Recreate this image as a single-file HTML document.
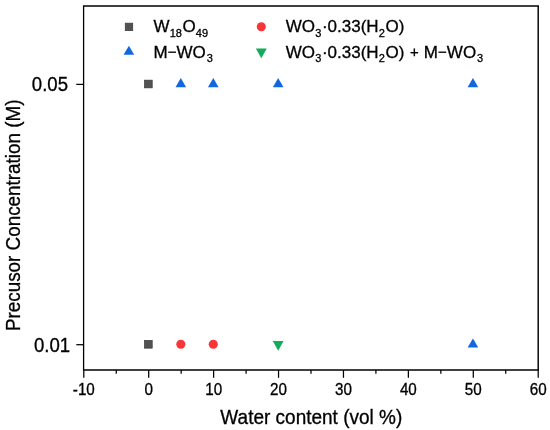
<!DOCTYPE html><html><head><meta charset="utf-8"><title>Phase diagram</title>
<style>html,body{margin:0;padding:0;background:#fff}svg{display:block}text{font-family:"Liberation Sans",Arial,sans-serif;fill:#000;stroke:#000;stroke-width:0.3px}</style></head><body>
<svg width="550" height="430" viewBox="0 0 550 430">
<rect width="550" height="430" fill="#fff"/>
<line x1="82.95" y1="6.0" x2="538.93" y2="6.0" stroke="#000" stroke-width="1.65"/>
<line x1="82.95" y1="370.0" x2="538.93" y2="370.0" stroke="#000" stroke-width="1.65"/>
<line x1="83.6" y1="6.0" x2="83.6" y2="370.0" stroke="#000" stroke-width="1.3"/>
<line x1="538.2" y1="6.0" x2="538.2" y2="370.0" stroke="#000" stroke-width="1.45"/>
<line x1="83.80" y1="370.0" x2="83.80" y2="377.8" stroke="#000" stroke-width="1.25"/>
<text transform="translate(83.80,394.8) scale(1,1.13)" font-size="15.2" text-anchor="middle">-10</text>
<line x1="148.71" y1="370.0" x2="148.71" y2="377.8" stroke="#000" stroke-width="1.25"/>
<text transform="translate(148.71,394.8) scale(1,1.13)" font-size="15.2" text-anchor="middle">0</text>
<line x1="213.63" y1="370.0" x2="213.63" y2="377.8" stroke="#000" stroke-width="1.25"/>
<text transform="translate(213.63,394.8) scale(1,1.13)" font-size="15.2" text-anchor="middle">10</text>
<line x1="278.54" y1="370.0" x2="278.54" y2="377.8" stroke="#000" stroke-width="1.25"/>
<text transform="translate(278.54,394.8) scale(1,1.13)" font-size="15.2" text-anchor="middle">20</text>
<line x1="343.46" y1="370.0" x2="343.46" y2="377.8" stroke="#000" stroke-width="1.25"/>
<text transform="translate(343.46,394.8) scale(1,1.13)" font-size="15.2" text-anchor="middle">30</text>
<line x1="408.37" y1="370.0" x2="408.37" y2="377.8" stroke="#000" stroke-width="1.25"/>
<text transform="translate(408.37,394.8) scale(1,1.13)" font-size="15.2" text-anchor="middle">40</text>
<line x1="473.29" y1="370.0" x2="473.29" y2="377.8" stroke="#000" stroke-width="1.25"/>
<text transform="translate(473.29,394.8) scale(1,1.13)" font-size="15.2" text-anchor="middle">50</text>
<line x1="538.20" y1="370.0" x2="538.20" y2="377.8" stroke="#000" stroke-width="1.25"/>
<text transform="translate(538.20,394.8) scale(1,1.13)" font-size="15.2" text-anchor="middle">60</text>
<line x1="116.26" y1="370.0" x2="116.26" y2="373.7" stroke="#000" stroke-width="1.25"/>
<line x1="181.17" y1="370.0" x2="181.17" y2="373.7" stroke="#000" stroke-width="1.25"/>
<line x1="246.09" y1="370.0" x2="246.09" y2="373.7" stroke="#000" stroke-width="1.25"/>
<line x1="311.00" y1="370.0" x2="311.00" y2="373.7" stroke="#000" stroke-width="1.25"/>
<line x1="375.91" y1="370.0" x2="375.91" y2="373.7" stroke="#000" stroke-width="1.25"/>
<line x1="440.83" y1="370.0" x2="440.83" y2="373.7" stroke="#000" stroke-width="1.25"/>
<line x1="505.74" y1="370.0" x2="505.74" y2="373.7" stroke="#000" stroke-width="1.25"/>
<line x1="76.30" y1="84.40" x2="83.6" y2="84.40" stroke="#000" stroke-width="1.25"/>
<text transform="translate(68,91.40) scale(1,1.05)" font-size="18.6" text-anchor="end">0.05</text>
<line x1="76.30" y1="344.70" x2="83.6" y2="344.70" stroke="#000" stroke-width="1.25"/>
<text transform="translate(70.1,351.70) scale(1,1.05)" font-size="18.6" text-anchor="end">0.01</text>
<text transform="translate(311.3,424.0) scale(1,1.045)" font-size="19" text-anchor="middle">Water content (vol %)</text>
<text transform="translate(19.8,215.3) rotate(-90) scale(0.993,1.05)" font-size="19" text-anchor="middle">Precusor Concentration (M)</text>
<rect x="144.51" y="80.15" width="7.7" height="7.7" fill="#525252" stroke="#3a3a3a" stroke-width="0.7"/>
<rect x="144.51" y="340.45" width="7.7" height="7.7" fill="#525252" stroke="#3a3a3a" stroke-width="0.7"/>
<polygon points="180.82,78.05 186.12,87.15 175.52,87.15" fill="#1068E0"/>
<polygon points="213.28,78.05 218.58,87.15 207.98,87.15" fill="#1068E0"/>
<polygon points="278.19,78.05 283.49,87.15 272.89,87.15" fill="#1068E0"/>
<polygon points="472.94,78.05 478.24,87.15 467.64,87.15" fill="#1068E0"/>
<polygon points="472.94,338.45 478.24,347.55 467.64,347.55" fill="#1068E0"/>
<circle cx="180.82" cy="344.30" r="4.55" fill="#FA3538"/>
<circle cx="213.28" cy="344.30" r="4.55" fill="#FA3538"/>
<polygon points="278.19,350.85 283.64,340.95 272.74,340.95" fill="#16AA5C"/>
<rect x="125.25" y="23.15" width="7.5" height="7.5" fill="#525252" stroke="#3a3a3a" stroke-width="0.7"/>
<polygon points="128.90,45.75 134.20,54.85 123.60,54.85" fill="#1068E0"/>
<circle cx="261.30" cy="26.70" r="4.55" fill="#FA3538"/>
<polygon points="261.30,58.35 266.75,48.45 255.85,48.45" fill="#16AA5C"/>
<text x="153.4" y="32.2" font-size="17"><tspan>W</tspan><tspan font-size="11" dy="4.80" dx="0.20">18</tspan><tspan dy="-4.80" dx="0.50">O</tspan><tspan font-size="11" dy="4.80" dx="0.20">49</tspan></text>
<text x="153.4" y="57.5" font-size="17"><tspan>M</tspan><tspan font-size="15.0" dy="-0.70" dx="0.10">−</tspan><tspan dy="0.70" dx="0.10">WO</tspan><tspan font-size="11" dy="4.80" dx="0.90">3</tspan></text>
<text x="285.8" y="32.2" font-size="17"><tspan>WO</tspan><tspan font-size="11" dy="4.80" dx="0.20">3</tspan><tspan dy="-4.80" dx="0.50">·0.33(H</tspan><tspan font-size="11" dy="4.80" dx="0.20">2</tspan><tspan dy="-4.80" dx="0.50">O)</tspan></text>
<text x="285.8" y="57.5" font-size="17"><tspan>WO</tspan><tspan font-size="11" dy="4.80" dx="0.20">3</tspan><tspan dy="-4.80" dx="0.50">·0.33(H</tspan><tspan font-size="11" dy="4.80" dx="0.20">2</tspan><tspan dy="-4.80" dx="0.50">O) </tspan><tspan font-size="15.0" dy="-0.70" dx="0.90">+</tspan><tspan dy="0.70" dx="0.30"> M</tspan><tspan font-size="15.0" dy="-0.70" dx="0.10">−</tspan><tspan dy="0.70" dx="0.10">WO</tspan><tspan font-size="11" dy="4.80" dx="0.90">3</tspan></text>
</svg></body></html>
